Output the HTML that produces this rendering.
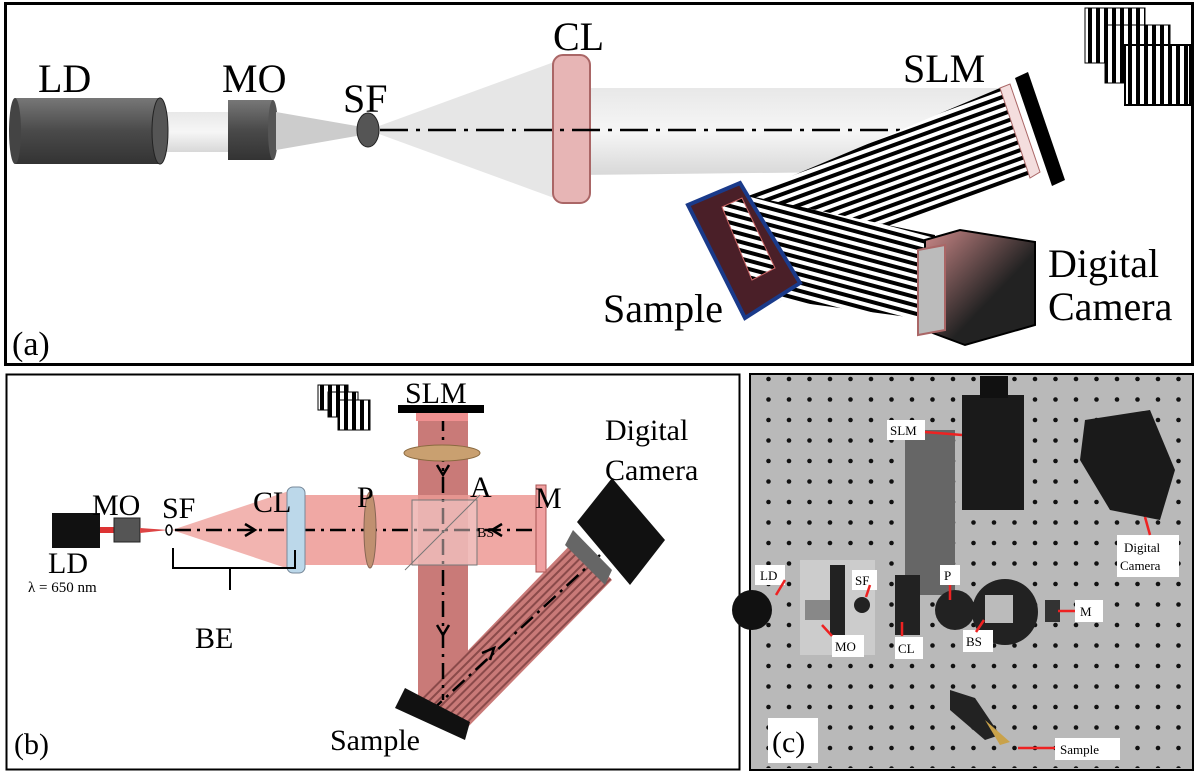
<!DOCTYPE html>
<html><head><style>
body{margin:0;background:#fff;}
svg{display:block;}
</style></head><body>
<svg width="1200" height="781" viewBox="0 0 1200 781" xmlns="http://www.w3.org/2000/svg" font-family="Liberation Serif, DejaVu Serif, serif">
<defs>
<linearGradient id="gcyl" x1="0" y1="0" x2="0" y2="1"><stop offset="0" stop-color="#777"/><stop offset=".5" stop-color="#4a4a4a"/><stop offset="1" stop-color="#333"/></linearGradient>
<linearGradient id="gbeam" x1="0" y1="0" x2="0" y2="1"><stop offset="0" stop-color="#e8e8e8"/><stop offset=".5" stop-color="#f6f6f6"/><stop offset="1" stop-color="#d8d8d8"/></linearGradient>
<pattern id="stripes" width="8" height="8" patternUnits="userSpaceOnUse" patternTransform="rotate(-20)"><rect width="8" height="4" fill="#000"/><rect y="4" width="8" height="4" fill="#fff"/></pattern>
<pattern id="stripes2" width="8" height="8" patternUnits="userSpaceOnUse" patternTransform="rotate(15)"><rect width="8" height="4" fill="#000"/><rect y="4" width="8" height="4" fill="#fff"/></pattern>
<pattern id="vstr" width="8" height="8" patternUnits="userSpaceOnUse"><rect width="4" height="8" fill="#000"/><rect x="4" width="4" height="8" fill="#fff"/></pattern>
<pattern id="dots" width="20.5" height="20.5" patternUnits="userSpaceOnUse"><circle cx="10" cy="10" r="2.3" fill="#111"/></pattern>
<pattern id="redstr" width="6" height="6" patternUnits="userSpaceOnUse" patternTransform="rotate(45)"><rect width="6" height="6" fill="#c97a78"/><rect width="2" height="6" fill="#8a4a4a"/></pattern>
<linearGradient id="gcam" x1="0" y1="0" x2="1" y2="1"><stop offset="0" stop-color="#c88"/><stop offset=".6" stop-color="#222"/></linearGradient>
</defs>

<!-- Panel a -->
<rect x="5.5" y="3.5" width="1187" height="361" fill="#fff" stroke="#000" stroke-width="3"/>
<rect x="160" y="112" width="75" height="40" fill="url(#gbeam)"/>
<rect x="15" y="98" width="145" height="66" fill="url(#gcyl)"/>
<ellipse cx="160" cy="131" rx="8" ry="33" fill="#555" stroke="#222"/>
<ellipse cx="15" cy="131" rx="6" ry="33" fill="#444"/>
<rect x="228" y="100" width="45" height="60" fill="url(#gcyl)"/>
<ellipse cx="273" cy="130" rx="5" ry="30" fill="#555"/>
<polygon points="276,112 368,128 368,134 276,150" fill="#ccc"/>
<polygon points="368,130 565,58 565,202" fill="#e6e6e6"/>
<polygon points="575,88 1005,88 1030,170 575,175" fill="url(#gbeam)"/>
<ellipse cx="368" cy="130" rx="11" ry="17" fill="#555" stroke="#222"/>
<rect x="553" y="55" width="37" height="148" rx="10" fill="#e7b5b5" stroke="#a66" stroke-width="2"/>
<line x1="380" y1="130" x2="920" y2="130" stroke="#000" stroke-width="2.5" stroke-dasharray="28,8,4,8"/>
<polygon points="1000,88 1030,178 775,270 735,200" fill="url(#stripes)"/>
<polygon points="745,195 935,235 930,320 780,300" fill="url(#stripes2)"/>
<polygon points="1015,78 1028,72 1065,180 1052,186" fill="#000"/>
<polygon points="1000,88 1010,84 1040,172 1030,178" fill="#f4dede" stroke="#a66"/>
<polygon points="688,205 740,183 800,283 745,318" fill="#4a1f28" stroke="#1a3a8a" stroke-width="4"/>
<polygon points="722,207 742,198 775,268 752,280" fill="url(#stripes2)" stroke="#c66"/>
<polygon points="925,240 960,230 1035,242 1035,325 965,345 925,330" fill="url(#gcam)" stroke="#000" stroke-width="2"/>
<polygon points="918,250 945,245 945,330 918,335" fill="#bbb" stroke="#a66" stroke-width="2"/>
<rect x="1085" y="8" width="60" height="55" fill="url(#vstr)" stroke="#000"/>
<rect x="1105" y="25" width="65" height="58" fill="url(#vstr)" stroke="#000"/>
<rect x="1125" y="45" width="65" height="60" fill="url(#vstr)" stroke="#000" stroke-width="2"/>
<g font-size="40">
<text x="38" y="92">LD</text><text x="222" y="92">MO</text><text x="343" y="112">SF</text>
<text x="553" y="50">CL</text><text x="903" y="82">SLM</text>
<text x="1048" y="277">Digital</text><text x="1048" y="320">Camera</text>
<text x="603" y="322">Sample</text><text x="12" y="355" font-size="34">(a)</text>
</g>

<!-- Panel b -->
<rect x="6.5" y="374.5" width="733" height="395" fill="#fff" stroke="#000" stroke-width="2"/>
<rect x="418" y="412" width="50" height="290" fill="#c97a78"/>
<polygon points="420,700 575,540 612,580 465,730" fill="url(#redstr)"/>
<polygon points="172,530 292,490 292,570" fill="#f2b4b0"/>
<rect x="300" y="495" width="240" height="70" fill="#f0a8a4"/>
<rect x="418" y="495" width="50" height="70" fill="#e59590"/>
<line x1="175" y1="530" x2="535" y2="530" stroke="#000" stroke-width="2.5" stroke-dasharray="16,6,3,6"/>
<line x1="443" y1="415" x2="443" y2="700" stroke="#000" stroke-width="2.5" stroke-dasharray="16,6,3,6"/>
<line x1="430" y1="712" x2="600" y2="555" stroke="#000" stroke-width="2.5" stroke-dasharray="16,6,3,6"/>
<path d="M245,524 L255,530 L245,536 M502,524 L492,530 L502,536 M437,465 L443,475 L449,465 M437,625 L443,635 L449,625 M482,653 L494,648 L490,660" fill="none" stroke="#000" stroke-width="2.5"/>
<rect x="412" y="500" width="65" height="65" fill="rgba(240,210,210,.5)" stroke="#777"/>
<line x1="405" y1="570" x2="480" y2="495" stroke="#777"/>
<rect x="398" y="405" width="86" height="8" fill="#000"/>
<rect x="416" y="413" width="52" height="8" fill="#f09090"/>
<ellipse cx="442" cy="453" rx="38" ry="8" fill="#c9a070" stroke="#8a6a40"/>
<rect x="536" y="485" width="10" height="87" fill="#f0a0a0" stroke="#a55"/>
<ellipse cx="370" cy="530" rx="6" ry="38" fill="#c09070" stroke="#865"/>
<rect x="287" y="487" width="18" height="86" rx="6" fill="#bcd8ea" stroke="#789"/>
<rect x="52" y="513" width="48" height="35" fill="#111"/>
<rect x="100" y="527" width="15" height="6" fill="#d33"/>
<rect x="114" y="518" width="26" height="24" fill="#555" stroke="#222"/>
<polygon points="140,528 168,530 140,533" fill="#d44"/>
<ellipse cx="169" cy="530" rx="3" ry="5" fill="#fff" stroke="#000" stroke-width="1.5"/>
<path d="M173,548 V568 H295 V550 M230,568 V590" fill="none" stroke="#000" stroke-width="2"/>
<polygon points="612,478 665,540 630,585 577,522" fill="#111"/>
<polygon points="573,530 612,570 605,585 565,545" fill="#666"/>
<polygon points="405,688 470,722 465,740 395,708" fill="#111"/>
<rect x="318" y="385" width="30" height="25" fill="url(#vstr)" stroke="#000"/>
<rect x="328" y="392" width="30" height="25" fill="url(#vstr)" stroke="#000"/>
<rect x="338" y="400" width="32" height="30" fill="url(#vstr)" stroke="#000"/>
<g font-size="30">
<text x="405" y="403">SLM</text><text x="605" y="440">Digital</text><text x="605" y="480">Camera</text>
<text x="470" y="497">A</text><text x="535" y="508">M</text><text x="357" y="507">P</text>
<text x="253" y="512">CL</text><text x="162" y="518">SF</text><text x="92" y="515">MO</text>
<text x="48" y="573">LD</text><text x="195" y="648">BE</text><text x="330" y="750">Sample</text>
<text x="14" y="754">(b)</text>
<text x="477" y="537" font-size="14">BS</text>
<text x="28" y="592" font-size="15">λ = 650 nm</text>
</g>

<!-- Panel c -->
<rect x="750" y="374" width="443" height="396" fill="#b9b9b9" stroke="#000" stroke-width="2"/>
<rect x="752" y="376" width="440" height="392" fill="url(#dots)"/>
<rect x="905" y="430" width="50" height="165" fill="#666"/>
<rect x="962" y="395" width="62" height="115" fill="#1a1a1a"/>
<rect x="980" y="376" width="28" height="22" fill="#111"/>
<polygon points="1085,420 1150,410 1175,470 1160,520 1110,510 1080,460" fill="#1a1a1a"/>
<circle cx="752" cy="610" r="20" fill="#111"/>
<rect x="800" y="560" width="75" height="95" fill="#ccc"/>
<rect x="805" y="600" width="30" height="20" fill="#888"/>
<rect x="830" y="565" width="15" height="70" fill="#222"/>
<circle cx="862" cy="605" r="8" fill="#222"/>
<rect x="895" y="575" width="25" height="60" fill="#222"/>
<circle cx="955" cy="610" r="20" fill="#222"/>
<circle cx="1005" cy="612" r="33" fill="#222"/>
<rect x="985" y="595" width="28" height="28" fill="#bbb"/>
<rect x="1045" y="600" width="15" height="22" fill="#333"/>
<polygon points="950,690 975,698 1000,735 985,740 950,710" fill="#222"/>
<polygon points="985,720 1010,742 1000,745" fill="#c9a24a"/>
<g font-size="13">
<rect x="887" y="420" width="38" height="20" fill="#fff"/><text x="890" y="435">SLM</text>
<rect x="755" y="565" width="30" height="20" fill="#fff"/><text x="760" y="580">LD</text>
<rect x="852" y="570" width="25" height="20" fill="#fff"/><text x="855" y="585">SF</text>
<rect x="832" y="635" width="32" height="22" fill="#fff"/><text x="835" y="651">MO</text>
<rect x="895" y="637" width="28" height="22" fill="#fff"/><text x="898" y="653">CL</text>
<rect x="940" y="565" width="20" height="20" fill="#fff"/><text x="944" y="580">P</text>
<rect x="963" y="630" width="30" height="22" fill="#fff"/><text x="966" y="646">BS</text>
<rect x="1075" y="600" width="28" height="22" fill="#fff"/><text x="1080" y="616">M</text>
<rect x="1117" y="535" width="62" height="42" fill="#fff"/><text x="1124" y="552">Digital</text><text x="1120" y="570">Camera</text>
<rect x="1055" y="738" width="65" height="22" fill="#fff"/><text x="1060" y="754">Sample</text>
<rect x="768" y="718" width="50" height="45" fill="#fff"/><text x="772" y="752" font-size="30">(c)</text>
</g>
<g stroke="#e22" stroke-width="2.5" fill="none">
<path d="M925,432 L962,435"/><path d="M785,580 L776,595"/><path d="M870,585 L866,597"/><path d="M832,636 L822,625"/><path d="M902,636 L902,622"/><path d="M950,585 L950,600"/><path d="M976,632 L984,620"/><path d="M1075,611 L1058,611"/><path d="M1150,535 L1145,517"/><path d="M1055,748 L1018,748"/>
</g>
</svg>
</body></html>
